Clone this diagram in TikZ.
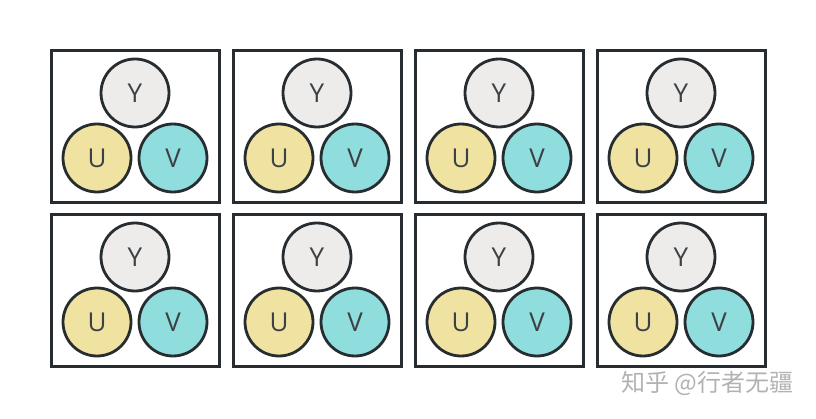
\documentclass[tikz,border=0pt]{standalone}
\usepackage{fontspec}
\setsansfont{Open Sans}
\newfontfamily\cjkfont{Noto Sans CJK SC}
\usetikzlibrary{positioning,chains}
\definecolor{edgegray}{HTML}{262C30}
\definecolor{yfill}{HTML}{EEEBEB}
\definecolor{ufill}{HTML}{F0E3A2}
\definecolor{vfill}{HTML}{8FDDDD}
\tikzset{frame/.style={draw=edgegray, line width=3pt, rectangle, minimum width=168pt, minimum height=152pt, inner sep=0pt},
  chan/.style={draw=edgegray, line width=2.8pt, circle, minimum size=68pt, inner sep=0pt, text=edgegray!90, font=\sffamily\fontsize{26}{26}\selectfont},
  lum/.style={chan, fill=yfill}, cb/.style={chan, fill=ufill}, cr/.style={chan, fill=vfill}}

\begin{document}
\begin{tikzpicture}[x=1pt, y=1pt, start chain=going right, node distance=11pt]
    \useasboundingbox (0,0) rectangle (816,418);
    \node[frame,on chain] (B1) at (135,291.5) {};
    \node[frame,on chain] (B2) {};
    \node[frame,on chain] (B3) {};
    \node[frame,on chain] (B4) {};
    \node[frame,below=9pt of B1] (B5) {};
    \node[frame,right=11pt of B5] (B6) {};
    \node[frame,right=11pt of B6] (B7) {};
    \node[frame,right=11pt of B7] (B8) {};
    % three channels in every box
    \foreach \b in {B1,B2,B3,B4,B5,B6,B7,B8} {
        \node[lum] (\b Y) at ([yshift=33.5pt]\b.center) {Y};
        \node[cb] (\b U) at ([xshift=-38pt,yshift=-31.5pt]\b.center) {U};
        \node[cr] (\b V) at ([xshift=38pt,yshift=-31.5pt]\b.center) {V};
    }
    \node[text=black!30, font=\cjkfont\fontsize{24}{24}\selectfont, anchor=east] (mark) at (797,35) {知乎 @行者无疆};
\end{tikzpicture}
\end{document}
